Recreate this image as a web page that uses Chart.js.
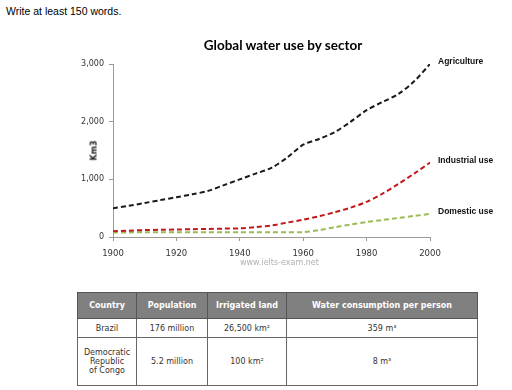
<!DOCTYPE html>
<html>
<head>
<meta charset="utf-8">
<script src="https://cdn.jsdelivr.net/npm/chart.js@4"></script>
<style>
  body { margin: 0; background: #fff; width: 512px; height: 390px; position: relative; overflow: hidden; }
  #note { position: absolute; left: 6px; top: 5px; font: 10.5px "Liberation Sans", Arial, sans-serif; color: #000; }
  #wrap { position: absolute; left: 0; top: 0; width: 512px; height: 280px; }
  #title { position: absolute; left: 0; width: 566px; top: 37px; text-align: center; font: bold 13.5px Lato, sans-serif; color: #000; }
  #ylab { position: absolute; left: 84px; top: 146px; transform: rotate(-90deg); font: bold 8px "DejaVu Sans", sans-serif; color: #222; }
  #mark { position: absolute; left: 240px; top: 258px; font: 8px "DejaVu Sans", sans-serif; color: #b0b0b0; }
  table { position: absolute; left: 77px; top: 292px; width: 401px; border-collapse: collapse; font: 8px "DejaVu Sans", Verdana, sans-serif; color: #333; }
  th { background: #808080; color: #fff; font-weight: bold; height: 25px; border: 1px solid #555; padding: 0; }
  td { border: 1px solid #666; text-align: center; padding: 0; }
</style>
</head>
<body>
<div id="note">Write at least 150 words.</div>
<div id="wrap"><canvas id="myChart" width="512" height="280"></canvas></div>
<div id="title">Global water use by sector</div>
<div id="ylab">Km3</div>
<div id="mark">www.ielts-exam.net</div>
<table>
  <tr><th style="width:58px">Country</th><th style="width:70px">Population</th><th style="width:78px">Irrigated land</th><th>Water consumption per person</th></tr>
  <tr style="height:19px"><td>Brazil</td><td>176 million</td><td>26,500 km²</td><td>359 m³</td></tr>
  <tr style="height:48px"><td>Democratic<br>Republic<br>of Congo</td><td>5.2 million</td><td>100 km²</td><td>8 m³</td></tr>
</table>
<script>
const years = [1900, 1905, 1910, 1915, 1920, 1925, 1930, 1935, 1940, 1945, 1950, 1955, 1960, 1965, 1970, 1975, 1980, 1985, 1990, 1995, 2000];
const agriculture = [500, 540, 590, 640, 690, 740, 800, 900, 1000, 1100, 1200, 1380, 1600, 1700, 1820, 2000, 2200, 2340, 2480, 2700, 3000];
const industrial = [100, 110, 120, 125, 130, 135, 140, 145, 150, 170, 200, 250, 300, 360, 430, 510, 610, 750, 920, 1100, 1290];
const domestic = [80, 80, 82, 82, 83, 83, 84, 84, 84, 84, 84, 84, 85, 120, 170, 215, 260, 295, 330, 365, 400];
const seriesNames = ['Agriculture', 'Industrial use', 'Domestic use'];
const xTicks = [1900, 1920, 1940, 1960, 1980, 2000];
const yTicks = [0, 1000, 2000, 3000];

const colors = ['#1a1a1a', '#c0191c', '#9bbb59'];

function pts(vals) {
  return years.map((y, i) => ({ x: y, y: vals[i] }));
}

// series names written just right of each line's end
const endLabels = {
  id: 'endLabels',
  afterDatasetsDraw(chart) {
    const c = chart.ctx;
    c.save();
    c.font = 'bold 8.5px "Liberation Sans", Arial, sans-serif';
    c.fillStyle = '#111';
    c.textBaseline = 'middle';
    chart.data.datasets.forEach((ds, i) => {
      const last = ds.data[ds.data.length - 1];
      const y = chart.scales.y.getPixelForValue(last.y);
      c.fillText(seriesNames[i], chart.chartArea.right + 8, y - 2);
    });
    c.restore();
  }
};

const ctx = document.getElementById('myChart');

new Chart(ctx, {
  type: 'line',
  data: {
    datasets: [agriculture, industrial, domestic].map((v, i) => ({
      label: seriesNames[i],
      data: pts(v),
      borderColor: colors[i],
      borderWidth: 2,
      borderDash: [5, 3],
      pointRadius: 0,
      tension: 0.3,
      fill: false
    }))
  },
  options: {
    responsive: false,
    animation: false,
    events: [],
    layout: { padding: { top: 64, right: 82, left: 0, bottom: 0 } },
    plugins: {
      legend: { display: false },
      tooltip: { enabled: false },
      title: { display: false }
    },
    scales: {
      x: {
        type: 'linear',
        min: 1900,
        max: 2000,
        afterBuildTicks: s => { s.ticks = xTicks.map(v => ({ value: v })); },
        afterFit: s => { s.height = 43; },
        border: { color: '#9a9a9a', width: 1 },
        grid: { drawOnChartArea: false, tickLength: 4, color: '#9a9a9a' },
        ticks: {
          padding: 8,
          color: '#333',
          font: { family: 'DejaVu Sans', size: 8.5 },
          maxRotation: 0,
          callback: v => String(v)
        }
      },
      y: {
        min: 0,
        max: 3000,
        afterBuildTicks: s => { s.ticks = yTicks.map(v => ({ value: v })); },
        afterFit: s => { s.width = 113; },
        border: { color: '#9a9a9a', width: 1 },
        grid: { drawOnChartArea: false, tickLength: 4, color: '#9a9a9a' },
        ticks: {
          padding: 5,
          color: '#333',
          font: { family: 'DejaVu Sans', size: 8 },
          callback: v => v.toLocaleString('en-US')
        }
      }
    }
  },
  plugins: [endLabels]
});
</script>
</body>
</html>
